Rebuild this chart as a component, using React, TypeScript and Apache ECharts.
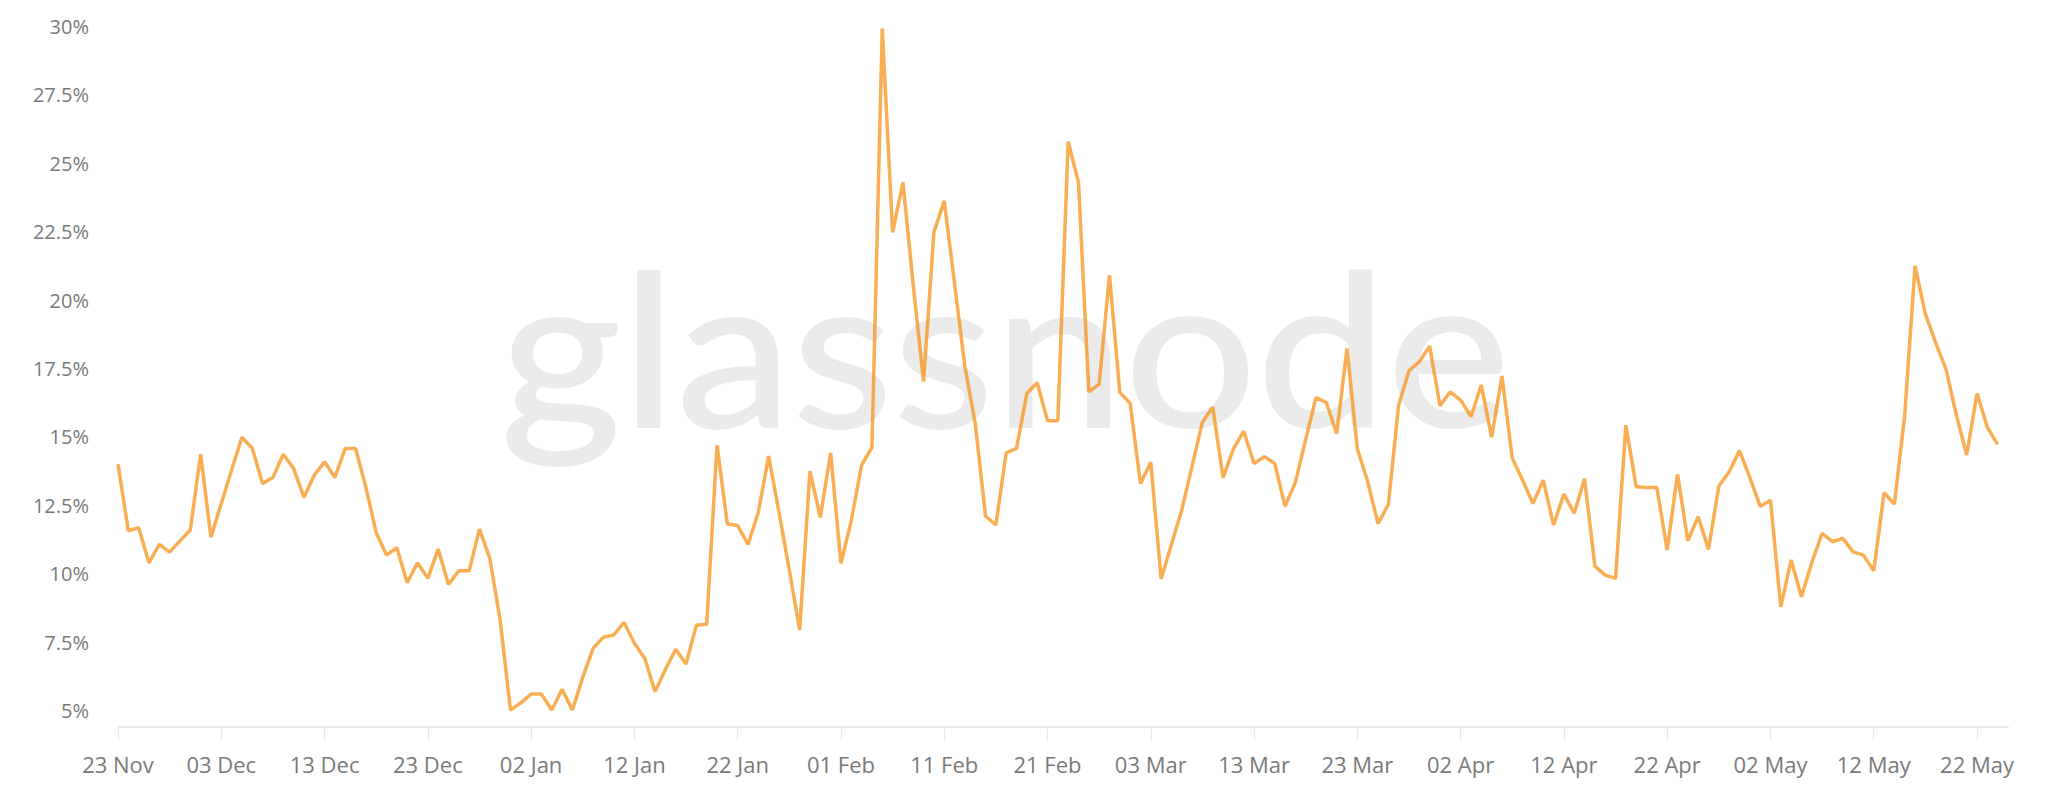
import React, { useEffect, useRef } from "react";
import * as echarts from "echarts";

const START_DATE = Date.UTC(2020, 10, 23);
const DAY_COUNT = 184;
const MONTHS = ["Jan", "Feb", "Mar", "Apr", "May", "Jun", "Jul", "Aug", "Sep", "Oct", "Nov", "Dec"];

const dateLabels: string[] = [];
for (let i = 0; i < DAY_COUNT; i++) {
  const d = new Date(START_DATE + i * 86400000);
  const dd = String(d.getUTCDate()).padStart(2, "0");
  dateLabels.push(`${dd} ${MONTHS[d.getUTCMonth()]}`);
}

const novDecValues = [
  14.0, 11.57, 11.68, 10.4, 11.07, 10.79, 11.2, 11.6, 14.37, 11.33,
  12.57, 13.79, 14.99, 14.58, 13.3, 13.52, 14.37, 13.85, 12.79, 13.6,
  14.09, 13.52, 14.58, 14.58, 13.16, 11.5, 10.68, 10.95, 9.67, 10.4,
  9.83, 10.9, 9.61, 10.11, 10.11, 11.63, 10.56, 8.31,
];
const janValues = [
  5.02, 5.28, 5.6, 5.6, 5.02, 5.77, 5.02, 6.21, 7.27, 7.68,
  7.76, 8.22, 7.46, 6.91, 5.69, 6.5, 7.24, 6.7, 8.12, 8.15,
  14.7, 11.82, 11.76, 11.07, 12.25, 14.3, 12.25, 10.13, 7.94, 13.75,
  12.06, 14.42,
];
const febValues = [
  10.38, 11.94, 13.97, 14.62, 29.93, 22.48, 24.31, 20.55, 17.02, 22.48,
  23.63, 20.6, 17.57, 15.5, 12.11, 11.78, 14.42, 14.58, 16.59, 16.98,
  15.59, 15.59, 25.8, 24.3, 16.65, 16.93, 20.91, 16.63,
];
const marValues = [
  16.23, 13.3, 14.07, 9.81, 11.07, 12.33, 13.93, 15.54, 16.09, 13.51,
  14.56, 15.21, 14.03, 14.28, 14.03, 12.46, 13.34, 14.91, 16.44, 16.26,
  15.12, 18.23, 14.56, 13.37, 11.83, 12.53, 16.17, 17.42, 17.75, 18.32,
  16.14,
];
const aprValues = [
  16.65, 16.35, 15.74, 16.9, 14.99, 17.23, 14.22, 13.42, 12.57, 13.42,
  11.78, 12.91, 12.21, 13.47, 10.28, 9.95, 9.83, 15.43, 13.18, 13.15,
  13.15, 10.87, 13.64, 11.21, 12.08, 10.89, 13.2, 13.73, 14.5, 13.52,
];
const mayValues = [
  12.46, 12.69, 8.79, 10.5, 9.16, 10.4, 11.48, 11.17, 11.29, 10.8,
  10.68, 10.11, 12.96, 12.55, 15.8, 21.25, 19.49, 18.44, 17.47, 15.8,
  14.34, 16.59, 15.35, 14.73,
];

const seriesValues = [
  ...novDecValues,
  ...janValues,
  ...febValues,
  ...marValues,
  ...aprValues,
  ...mayValues,
];

const yTickValues = [5, 7.5, 10, 12.5, 15, 17.5, 20, 22.5, 25, 27.5, 30];

export default function App() {
  const ref = useRef<HTMLDivElement>(null);

  useEffect(() => {
    document.body.style.margin = "0";
    if (!ref.current) return;
    const chart = echarts.init(ref.current, undefined, { renderer: "svg" });
    chart.setOption({
      animation: false,
      backgroundColor: "#ffffff",
      grid: { left: 118, right: 40, top: 26.6, bottom: 91.5, containLabel: false },
      graphic: [
        {
          type: "text",
          x: 1005,
          y: 345,
          scaleX: 1.1,
          z: 0,
          silent: true,
          style: {
            text: "glassnode",
            fontFamily: "Lato",
            fontSize: 212,
            fontWeight: 400,
            fill: "#ebebeb",
            stroke: "#ebebeb",
            lineWidth: 2,
            textAlign: "center",
            textVerticalAlign: "middle",
          },
        },
      ],
      xAxis: {
        type: "category",
        data: dateLabels,
        boundaryGap: false,
        offset: 16.5,
        axisLine: { show: true, lineStyle: { color: "#e8e8ea", width: 2 } },
        axisTick: {
          show: true,
          interval: 9,
          length: 14,
          lineStyle: { color: "#e8e8ea", width: 1 },
        },
        axisLabel: {
          interval: 9,
          margin: 26,
          color: "#7a7a7a",
          fontFamily: "Open Sans",
          fontSize: 22,
        },
        splitLine: { show: false },
      },
      yAxis: {
        type: "value",
        min: yTickValues[0],
        max: yTickValues[yTickValues.length - 1],
        interval: 2.5,
        axisLine: { show: false },
        axisTick: { show: false },
        splitLine: { show: false },
        axisLabel: {
          margin: 29,
          color: "#7a7a7a",
          fontFamily: "Open Sans",
          fontSize: 20,
          formatter: (v: number) => `${v}%`,
        },
      },
      series: [
        {
          type: "line",
          data: seriesValues,
          showSymbol: false,
          symbol: "none",
          z: 5,
          lineStyle: { color: "rgba(247,147,26,0.75)", width: 3.5 },
          itemStyle: { color: "rgba(247,147,26,0.75)" },
        },
      ],
    });
    return () => chart.dispose();
  }, []);

  return <div ref={ref} style={{ width: 2048, height: 802 }} />;
}
